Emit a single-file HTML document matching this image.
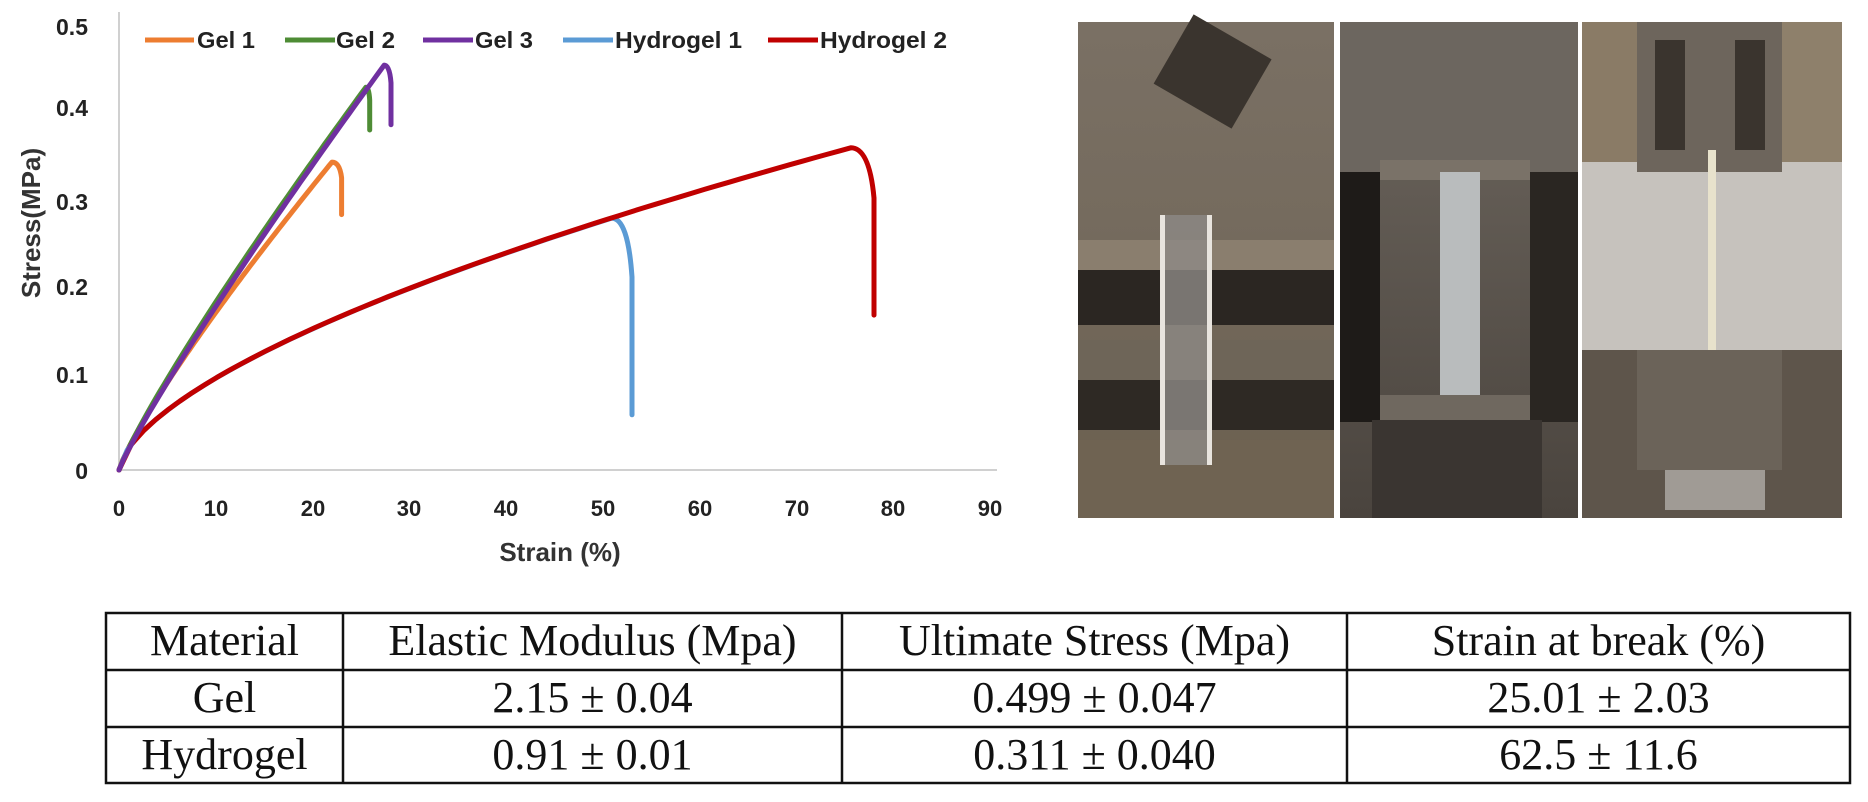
<!DOCTYPE html>
<html><head><meta charset="utf-8"><style>
html,body{margin:0;padding:0;background:#fff;}
body{width:1868px;height:802px;position:relative;overflow:hidden;font-family:"Liberation Sans",sans-serif;}
.t{position:absolute;font-family:"Liberation Serif",serif;font-size:44px;color:#111;text-align:center;white-space:nowrap;}
</style></head><body>
<svg width="1868" height="802" style="position:absolute;left:0;top:0">
<defs>
<linearGradient id="p1" x1="0" y1="0" x2="0" y2="1">
<stop offset="0" stop-color="#7a7064"/><stop offset="0.4" stop-color="#756b5e"/><stop offset="1" stop-color="#6a5e4e"/></linearGradient>
<linearGradient id="p2" x1="0" y1="0" x2="0" y2="1">
<stop offset="0" stop-color="#6e675f"/><stop offset="1" stop-color="#4a443e"/></linearGradient>
</defs>
<line x1="119" y1="12" x2="119" y2="470" stroke="#d0d0d0" stroke-width="2"/>
<line x1="119" y1="470" x2="997" y2="470" stroke="#d0d0d0" stroke-width="2"/>
<g font-family="Liberation Sans" font-weight="bold" font-size="23" fill="#222" text-anchor="end">
<text x="88" y="35">0.5</text><text x="88" y="116">0.4</text><text x="88" y="210">0.3</text>
<text x="88" y="295">0.2</text><text x="88" y="383">0.1</text><text x="88" y="479">0</text>
</g>
<g font-family="Liberation Sans" font-weight="bold" font-size="22" fill="#222" text-anchor="middle">
<text x="119" y="516">0</text><text x="216" y="516">10</text><text x="313" y="516">20</text><text x="409" y="516">30</text>
<text x="506" y="516">40</text><text x="603" y="516">50</text><text x="700" y="516">60</text><text x="797" y="516">70</text>
<text x="893" y="516">80</text><text x="990" y="516">90</text>
</g>
<text x="560" y="561" font-family="Liberation Sans" font-weight="bold" font-size="26" fill="#333" text-anchor="middle">Strain (%)</text>
<text transform="translate(40,223) rotate(-90)" font-family="Liberation Sans" font-weight="bold" font-size="26" fill="#333" text-anchor="middle">Stress(MPa)</text>
<g stroke-width="5">
<line x1="145" y1="40" x2="194" y2="40" stroke="#ed7d31"/>
<line x1="285" y1="40" x2="335" y2="40" stroke="#4e8c35"/>
<line x1="423" y1="40" x2="473" y2="40" stroke="#7030a0"/>
<line x1="563" y1="40" x2="613" y2="40" stroke="#5b9bd5"/>
<line x1="768" y1="40" x2="818" y2="40" stroke="#c00000"/>
</g>
<g font-family="Liberation Sans" font-weight="bold" font-size="23" fill="#222">
<text x="197" y="48" textLength="58" lengthAdjust="spacingAndGlyphs">Gel 1</text>
<text x="336" y="48" textLength="59" lengthAdjust="spacingAndGlyphs">Gel 2</text>
<text x="475" y="48" textLength="58" lengthAdjust="spacingAndGlyphs">Gel 3</text>
<text x="615" y="48" textLength="127" lengthAdjust="spacingAndGlyphs">Hydrogel 1</text>
<text x="820" y="48" textLength="127" lengthAdjust="spacingAndGlyphs">Hydrogel 2</text>
</g>
<g id="curves" fill="none" stroke-width="5" stroke-linejoin="round" stroke-linecap="round"></g>
<rect x="1078" y="22" width="256" height="496" fill="url(#p1)"/>
<rect x="1078" y="240" width="256" height="30" fill="#8a7e6e"/>
<rect x="1078" y="270" width="256" height="55" fill="#2b2622"/>
<rect x="1078" y="340" width="256" height="40" fill="#6e6558"/>
<rect x="1078" y="380" width="256" height="50" fill="#2e2924"/>
<rect x="1078" y="440" width="256" height="78" fill="#6f6352"/>
<rect x="1168" y="30" width="90" height="80" fill="#3a342e" transform="rotate(30 1210 70)"/>
<rect x="1160" y="215" width="48" height="250" fill="#8d8a86" opacity="0.8"/>
<rect x="1160" y="215" width="5" height="250" fill="#e8e4de"/>
<rect x="1207" y="215" width="5" height="250" fill="#e8e4de"/>
<rect x="1340" y="22" width="238" height="496" fill="url(#p2)"/>
<rect x="1340" y="22" width="238" height="150" fill="#6c665f"/>
<rect x="1340" y="172" width="40" height="250" fill="#1e1b18"/>
<rect x="1530" y="172" width="48" height="250" fill="#2a2622"/>
<rect x="1380" y="160" width="150" height="20" fill="#7a7268"/>
<rect x="1440" y="172" width="40" height="230" fill="#b9bcbd"/>
<rect x="1380" y="395" width="150" height="25" fill="#6f685f"/>
<rect x="1372" y="420" width="170" height="98" fill="#3a3531"/>
<rect x="1582" y="22" width="260" height="496" fill="#c6c2bd"/>
<rect x="1582" y="22" width="55" height="140" fill="#8a7b66"/>
<rect x="1782" y="22" width="60" height="140" fill="#8e806b"/>
<rect x="1637" y="22" width="145" height="150" fill="#6d655c"/>
<rect x="1655" y="40" width="30" height="110" fill="#3a342e"/>
<rect x="1735" y="40" width="30" height="110" fill="#3a342e"/>
<rect x="1708" y="150" width="8" height="230" fill="#e8e2cc"/>
<rect x="1582" y="350" width="260" height="168" fill="#5e554b"/>
<rect x="1637" y="350" width="145" height="120" fill="#6b6359"/>
<rect x="1665" y="470" width="100" height="40" fill="#a09b95"/>
</svg>
<svg width="1868" height="802" style="position:absolute;left:0;top:0">
<g stroke="#111" stroke-width="2.5" fill="none">
<rect x="106" y="613" width="1744" height="170"/>
<line x1="106" y1="670" x2="1850" y2="670"/><line x1="106" y1="727" x2="1850" y2="727"/>
<line x1="343" y1="613" x2="343" y2="783"/><line x1="842" y1="613" x2="842" y2="783"/><line x1="1347" y1="613" x2="1347" y2="783"/>
</g>
</svg>
<div class="t" style="left:106px;top:615px;width:237px">Material</div>
<div class="t" style="left:343px;top:615px;width:499px">Elastic Modulus (Mpa)</div>
<div class="t" style="left:842px;top:615px;width:505px">Ultimate Stress (Mpa)</div>
<div class="t" style="left:1347px;top:615px;width:503px">Strain at break (%)</div>
<div class="t" style="left:106px;top:672px;width:237px">Gel</div>
<div class="t" style="left:343px;top:672px;width:499px">2.15 ± 0.04</div>
<div class="t" style="left:842px;top:672px;width:505px">0.499 ± 0.047</div>
<div class="t" style="left:1347px;top:672px;width:503px">25.01 ± 2.03</div>
<div class="t" style="left:106px;top:729px;width:237px">Hydrogel</div>
<div class="t" style="left:343px;top:729px;width:499px">0.91 ± 0.01</div>
<div class="t" style="left:842px;top:729px;width:505px">0.311 ± 0.040</div>
<div class="t" style="left:1347px;top:729px;width:503px">62.5 ± 11.6</div>
<script>
(function(){
var X=function(s){return 119+s*9.68;},Y=function(v){return 470-v*890;};
function curve(col,smax,vmax,p,dropS,dropV){
 var d="";
 for(var i=0;i<=60;i++){var s=smax*i/60;var v=vmax*Math.pow(s/smax,p);
  d+=(i?"L":"M")+X(s).toFixed(1)+" "+Y(v).toFixed(1);}
 d+=" Q"+X(smax+(dropS-smax)*0.8).toFixed(1)+" "+Y(vmax).toFixed(1)+" "+X(dropS).toFixed(1)+" "+Y(vmax-(vmax-dropV)*0.3).toFixed(1);
 d+=" L"+X(dropS).toFixed(1)+" "+Y(dropV).toFixed(1);
 var e=document.createElementNS("http://www.w3.org/2000/svg","path");
 e.setAttribute("d",d);e.setAttribute("stroke",col);
 document.getElementById("curves").appendChild(e);
}
curve("#ed7d31",22.0,0.346,0.85,23.0,0.287);
curve("#4e8c35",25.5,0.43,0.88,25.9,0.382);
curve("#5b9bd5",50.9,0.283,0.62,53.0,0.062);
curve("#c00000",75.6,0.362,0.62,78.0,0.174);
curve("#7030a0",27.4,0.455,0.9,28.1,0.388);
})();
</script>
</body></html>
